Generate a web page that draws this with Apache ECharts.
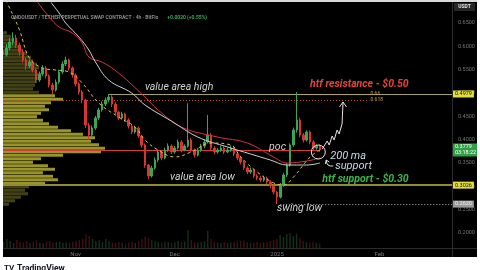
<!DOCTYPE html>
<html><head><meta charset="utf-8">
<script src="https://cdn.jsdelivr.net/npm/echarts@6/dist/echarts.min.js"></script>
<style>html,body{margin:0;padding:0;background:#fff;}#c{width:480px;height:270px;}</style>
</head><body><div id="c"></div>
<script>
// ---- data ----
const startDay = [2024, 9, 10];           // first candle: 10 Oct 2024 (daily candles)
const lastDayOnAxis = 136;                 // axis ends ~23 Feb 2025
const candles = [ // [open, close, low, high]
[0.5900,0.5814,0.5750,0.6000],[0.5814,0.5964,0.5780,0.6050],[0.5964,0.6093,0.5920,0.6180],[0.6093,0.6179,0.6020,0.6300],
[0.6179,0.6029,0.5960,0.6250],[0.6029,0.5879,0.5800,0.6080],[0.5879,0.5707,0.5650,0.5930],[0.5707,0.5579,0.5500,0.5760],
[0.5579,0.5664,0.5530,0.5720],[0.5664,0.5493,0.5440,0.5700],[0.5493,0.5279,0.5220,0.5530],[0.5279,0.5407,0.5240,0.5460],
[0.5407,0.5536,0.5370,0.5600],[0.5536,0.5364,0.5310,0.5580],[0.5364,0.5171,0.5120,0.5400],[0.5171,0.5064,0.4980,0.5220],
[0.5064,0.5236,0.5030,0.5290],[0.5236,0.5450,0.5200,0.5500],[0.5450,0.5622,0.5410,0.5680],[0.5622,0.5707,0.5580,0.5780],
[0.5707,0.5536,0.5480,0.5740],[0.5536,0.5386,0.5330,0.5570],[0.5386,0.5193,0.5140,0.5420],[0.5193,0.5021,0.4970,0.5230],
[0.5021,0.4850,0.4780,0.5060],[0.4850,0.4314,0.4250,0.4880],[0.4314,0.4100,0.4000,0.4360],[0.4100,0.4250,0.4060,0.4300],
[0.4250,0.4464,0.4210,0.4510],[0.4464,0.4636,0.4420,0.4680],[0.4636,0.4764,0.4600,0.4820],[0.4764,0.4850,0.4720,0.4900],
[0.4850,0.4914,0.4800,0.4980],[0.4914,0.4764,0.4700,0.4950],[0.4764,0.4593,0.4540,0.4800],[0.4593,0.4464,0.4420,0.4620],
[0.4464,0.4550,0.4430,0.4600],[0.4550,0.4422,0.4380,0.4580],[0.4422,0.4293,0.4240,0.4460],[0.4293,0.4164,0.4120,0.4330],
[0.4164,0.4250,0.4130,0.4300],[0.4250,0.4079,0.4040,0.4280],[0.4079,0.3886,0.3830,0.4110],[0.3886,0.3457,0.3400,0.3920],
[0.3457,0.3221,0.3160,0.3480],[0.3221,0.3393,0.3190,0.3440],[0.3393,0.3564,0.3360,0.3620],[0.3564,0.3736,0.3520,0.3790],
[0.3736,0.3607,0.3560,0.3780],[0.3607,0.3779,0.3580,0.3830],[0.3779,0.3864,0.3740,0.3920],[0.3864,0.3736,0.3690,0.3900],
[0.3736,0.3821,0.3700,0.3870],[0.3821,0.3950,0.3790,0.4000],[0.3950,0.3779,0.3730,0.3990],[0.3779,0.3864,0.3750,0.3900],
[0.3864,0.3993,0.3830,0.4780],[0.3993,0.3779,0.3740,0.4040],[0.3779,0.3672,0.3620,0.3810],[0.3672,0.3779,0.3640,0.3820],
[0.3779,0.3864,0.3740,0.3910],[0.3864,0.3950,0.3820,0.4000],[0.3950,0.4100,0.3920,0.4530],[0.4100,0.3821,0.3780,0.4140],
[0.3821,0.3736,0.3690,0.3860],[0.3736,0.3779,0.3700,0.3820],[0.3779,0.3821,0.3740,0.3870],[0.3821,0.3736,0.3690,0.3860],
[0.3736,0.3779,0.3710,0.3830],[0.3779,0.3821,0.3740,0.3880],[0.3821,0.3693,0.3650,0.3850],[0.3693,0.3607,0.3560,0.3730],
[0.3607,0.3521,0.3470,0.3650],[0.3521,0.3393,0.3350,0.3560],[0.3393,0.3307,0.3260,0.3430],[0.3307,0.3350,0.3270,0.3400],
[0.3350,0.3221,0.3180,0.3380],[0.3221,0.3179,0.3130,0.3260],[0.3179,0.3136,0.3090,0.3220],[0.3136,0.3179,0.3100,0.3230],
[0.3179,0.3093,0.3050,0.3210],[0.3093,0.3007,0.2960,0.3130],[0.3007,0.2879,0.2830,0.3040],[0.2879,0.2771,0.2620,0.2900],
[0.2771,0.3029,0.2740,0.3070],[0.3029,0.3243,0.2990,0.3290],[0.3243,0.3457,0.3200,0.3500],[0.3457,0.3886,0.3420,0.3920],
[0.3886,0.4207,0.3850,0.4260],[0.4207,0.4422,0.4150,0.5020],[0.4422,0.4100,0.4050,0.4470],[0.4100,0.3993,0.3940,0.4140],
[0.3993,0.4164,0.3960,0.4200],[0.4164,0.3950,0.3900,0.4200],[0.3950,0.3821,0.3770,0.3990],[0.3821,0.3864,0.3780,0.3900],
[0.3864,0.3779,0.3740,0.3900]
];
const volumes = [30,45,35,25,40,30,28,35,25,30, 38,25,22,30,35,28,30,32,25,28, 26,30,35,40,45,70,60,45,35,40,
 30,45,35,28,26,30,25,22,28,30, 25,35,45,55,50,40,35,30,28,32, 30,25,28,35,30,32,90,40,30,28,
 30,35,85,45,30,28,25,30,26,28, 30,32,35,38,30,25,28,30,26,28, 30,35,40,45,65,55,70,75,60,72, 50,35,30,28,30,25,22];
// moving averages: [day index, price]
const redMA = [[8,0.7207],[10,0.6993],[14,0.6629],[17,0.6414],[21,0.6286],[24,0.6072],[26,0.5772],[30,0.5664],[35,0.5429],
 [43,0.4914],[47,0.4636],[54,0.4271],[65,0.4057],[74,0.3929],[82,0.3629],[86,0.3500],[92,0.3543],[96,0.3607]];
const whiteMA = [[12,0.7207],[14,0.6993],[17,0.6714],[19,0.6500],[23,0.6200],[26,0.5922],[28,0.5664],[32,0.5279],[39,0.5000],
 [43,0.4743],[51,0.4400],[59,0.4057],[68,0.3843],[75,0.3693],[81,0.3564],[86,0.3457],[92,0.3457],[96,0.3500]];
const yellowMA = [[0,0.7100],[2,0.6822],[5,0.6350],[8,0.5750],[12,0.5536],[16,0.5493],[20,0.5450],[24,0.5214],[29,0.4786],
 [35,0.4486],[40,0.4271],[43,0.3993],[47,0.3779],[52,0.3629],[57,0.3736],[63,0.3929],[69,0.3886],[72,0.3629],[77,0.3307],
 [82,0.3072],[85,0.3029],[88,0.3200],[93,0.3629],[96,0.3779]];
// volume profile, 70 price rows from top of the chart to bottom
const profile = [0,0,0,0,0,0,0,0,4,8, 10,14,18,20,24,28,30,34,36,34, 38,36,34,32,30,36,52,60,48,42,
 46,38,34,40,46,55,68,80,92,88, 96,102,98,60,38,30,45,52,40,50, 55,42,26,22,25,18,12,6,0,0, 0,0,0,0,0,0,0,0,0,0];
const levels = {vah:0.4979, fib66:0.4979, fib618:0.4850, poc:0.3768, val:0.3026, swingLow:0.2620, last:0.3779};
const priceTickStep = 0.05;
const monthNames = ['Jan','Feb','Mar','Apr','May','Jun','Jul','Aug','Sep','Oct','Nov','Dec'];
const titleText = 'ONDOUSDT / TETHER PERPETUAL SWAP CONTRACT · 4h · BitFlo';
const changeText = '+0.0020 (+0.55%)';
const countdownText = '03:18:22';
const notes = [
 {text:'value area high', d:43.0, v:0.5129, kind:'w'},
 {text:'poc', d:80.6, v:0.3832, kind:'w'},
 {text:'value area low', d:50.6, v:0.3200, kind:'w'},
 {text:'swing low', d:83.0, v:0.2536, kind:'w'},
 {text:'htf resistance - $0.50', d:93.0, v:0.5182, kind:'r'},
 {text:'200 ma', d:99.1, v:0.3650, kind:'b'},
 {text:'support', d:100.6, v:0.3436, kind:'b'},
 {text:'htf support - $0.30', d:96.7, v:0.3157, kind:'g'}
];
const zigzag = [[96.7,0.3800],[98.2,0.3971],[98.8,0.3886],[99.7,0.4079],[100.3,0.3993],[101.2,0.4207],[101.8,0.4122],[102.7,0.4336],[103.0,0.4807]];
const circleAt = [95.5, 0.3736];

// ---- chart ----
const DAY = 86400000;
const t0 = Date.UTC(startDay[0], startDay[1], startDay[2]);
const t = d => t0 + d * DAY;
const yMin = 0.1679, yMax = 0.6929;
const FONT = 'Roboto, "DejaVu Sans", sans-serif';
const UP = '#3aa655', DOWN = '#d8362f';

const binH = (yMax - yMin) / profile.length;
const profileData = profile.map((v, i) => {
  const p = yMax - (i + 0.5) * binH;
  const inVA = p <= levels.vah && p >= levels.val;
  return {value: v, itemStyle: {color: inVA ? 'rgba(196,190,52,0.78)' : 'rgba(120,118,40,0.55)'}};
});

function seg(d0, d1, v, lineStyle, label) {
  return [{coord: [t(d0), v], lineStyle: lineStyle, label: label || {show: false}}, {coord: [t(d1), v]}];
}
function boxLabel(txt, bg, fg) {
  return {show: true, position: 'end', distance: 1, formatter: txt, color: fg, backgroundColor: bg,
    fontSize: 5.5, fontFamily: FONT, padding: [1, 2, 0, 2], lineHeight: 6};
}
function fibLabel(txt) {
  return {show: true, position: 'end', distance: 1, formatter: txt, color: '#c8a040', fontSize: 5, fontFamily: FONT};
}
const noteColor = {w: '#d2d2d2', r: '#e5443a', g: '#3cb446', b: '#c4dbe4'};
const noteWeight = {w: 'normal', r: 'bold', g: 'bold', b: 'normal'};
const noteSize = {w: 10.5, r: 10.5, g: 10.5, b: 11};

const chart = echarts.init(document.getElementById('c'), null, {renderer: 'canvas'});
const option = {
  animation: false, useUTC: true, backgroundColor: '#000',
  textStyle: {fontFamily: FONT},
  title: {text: '{a|' + titleText + '}  {b|' + changeText + '}', left: 6, top: 4,
    textStyle: {rich: {a: {fontSize: 5, color: '#8a8a8a', fontFamily: FONT}, b: {fontSize: 5, color: '#3aa655', fontFamily: FONT}}}},
  grid: [
    {left: 3, right: 28, top: 3, height: 245},
    {left: 3, right: 28, top: 3, height: 245},
    {left: 3, right: 28, top: 228, height: 20}
  ],
  xAxis: [
    {type: 'time', gridIndex: 0, min: t(0), max: t(lastDayOnAxis), minInterval: 30 * DAY, maxInterval: 31 * DAY,
      splitLine: {show: false}, axisLine: {show: false}, axisTick: {show: false},
      axisLabel: {color: '#7c7c7c', fontSize: 6, margin: 3, showMinLabel: false, showMaxLabel: false, hideOverlap: false,
        formatter: val => { const dt = new Date(val); return dt.getUTCMonth() === 0 ? String(dt.getUTCFullYear()) : monthNames[dt.getUTCMonth()]; }}},
    {type: 'value', gridIndex: 1, min: 0, max: 449, show: false},
    {type: 'time', gridIndex: 2, min: t(0), max: t(lastDayOnAxis), show: false}
  ],
  yAxis: [
    {type: 'value', gridIndex: 0, position: 'right', min: yMin, max: yMax, splitNumber: 10,
      splitLine: {show: false}, axisLine: {show: false}, axisTick: {show: false},
      axisLabel: {color: '#767676', fontSize: 5.5, margin: 6, showMinLabel: false, showMaxLabel: false,
        formatter: v => (Math.abs(v / priceTickStep - Math.round(v / priceTickStep)) < 1e-6 ? v.toFixed(4) : '')}},
    {type: 'category', gridIndex: 1, inverse: true, data: profile.map((v, i) => 'r' + i), show: false},
    {type: 'value', gridIndex: 2, min: 0, max: 100, show: false}
  ],
  series: [
    {type: 'bar', name: 'profile', xAxisIndex: 1, yAxisIndex: 1, z: 1, barCategoryGap: '12%', data: profileData, silent: true},
    {type: 'bar', name: 'volume', xAxisIndex: 2, yAxisIndex: 2, z: 1, barWidth: 1.4, silent: true,
      data: volumes.map((v, i) => ({value: [t(i), v], itemStyle: {color: candles[i][1] >= candles[i][0] ? 'rgba(58,166,85,0.3)' : 'rgba(216,54,47,0.3)'}}))},
    {type: 'candlestick', name: 'price', xAxisIndex: 0, yAxisIndex: 0, z: 3, barWidth: 2,
      data: candles.map((c, i) => [t(i), c[0], c[1], c[2], c[3]]),
      itemStyle: {color: UP, color0: DOWN, borderColor: UP, borderColor0: DOWN, borderWidth: 1},
      markLine: {symbol: 'none', silent: true, animation: false, z: 2,
        data: [
          seg(32, lastDayOnAxis, levels.vah, {color: '#a4a25e', width: 1, type: 'solid'}, boxLabel(levels.vah.toFixed(4), '#e2df3c', '#111')),
          seg(87, 111, levels.fib66, {color: '#d0b040', width: 1, type: [1, 2]}, fibLabel('0.66')),
          seg(0, 111, levels.fib618, {color: '#c0522e', width: 1, type: [1, 2]}, fibLabel('0.618')),
          seg(0, 96, levels.poc, {color: '#d63a3a', width: 1, type: 'solid'}),
          seg(0, lastDayOnAxis, levels.val, {color: '#8e8c2e', width: 2, type: 'solid'}, boxLabel(levels.val.toFixed(4), '#e2df3c', '#111')),
          seg(84, lastDayOnAxis, levels.swingLow, {color: '#b0b0b0', width: 1, type: [1, 2]}, boxLabel(levels.swingLow.toFixed(4), '#9a9a9a', '#f0f0f0')),
          seg(96, lastDayOnAxis, levels.last, {color: 'rgba(0,0,0,0)', width: 1}, boxLabel(levels.last.toFixed(4) + '\n' + countdownText, '#2ea043', '#ffffff'))
        ]},
      markPoint: {silent: true, animation: false, symbol: 'circle', symbolSize: 0,
        data: notes.map(n => ({coord: [t(n.d), n.v], symbolSize: 0,
          label: {show: true, position: 'right', distance: 0, formatter: n.text, color: noteColor[n.kind],
            fontSize: noteSize[n.kind], fontStyle: 'italic', fontWeight: noteWeight[n.kind], fontFamily: FONT}}))}
    },
    {type: 'line', name: 'ma red', xAxisIndex: 0, yAxisIndex: 0, z: 4, smooth: 0.4, symbol: 'none', silent: true,
      data: redMA.map(p => [t(p[0]), p[1]]), lineStyle: {color: '#d8323c', width: 1}},
    {type: 'line', name: 'ma white', xAxisIndex: 0, yAxisIndex: 0, z: 4, smooth: 0.4, symbol: 'none', silent: true,
      data: whiteMA.map(p => [t(p[0]), p[1]]), lineStyle: {color: '#cfcfcf', width: 1}},
    {type: 'line', name: 'ma dashed', xAxisIndex: 0, yAxisIndex: 0, z: 4, smooth: 0.4, symbol: 'none', silent: true,
      data: yellowMA.map(p => [t(p[0]), p[1]]), lineStyle: {color: '#d9c44a', width: 1, type: [3, 3]}}
  ]
};
chart.setOption(option);

const px = (d, v) => chart.convertToPixel({xAxisIndex: 0, yAxisIndex: 0}, [t(d), v]);
const zz = zigzag.map(p => px(p[0], p[1]));
const tip = zz[zz.length - 1];
const C = px(circleAt[0], circleAt[1]);
chart.setOption({graphic: [
  {type: 'polyline', z: 50, shape: {points: zz}, style: {stroke: '#ecdde6', lineWidth: 1, fill: null}},
  {type: 'polyline', z: 50, shape: {points: [[tip[0] - 3.5, tip[1] + 5], tip, [tip[0] + 3.5, tip[1] + 5]]}, style: {stroke: '#ecdde6', lineWidth: 1, fill: null}},
  {type: 'circle', z: 50, shape: {cx: C[0], cy: C[1], r: 7}, style: {stroke: '#e6e6e6', lineWidth: 1, fill: null}},
  {type: 'bezierCurve', z: 50, shape: {x1: C[0] + 15, y1: C[1] + 14, cpx1: C[0] + 8, cpy1: C[1] + 15, x2: C[0] + 8, y2: C[1] + 8}, style: {stroke: '#d8e4ea', lineWidth: 1, fill: null}},
  {type: 'polyline', z: 50, shape: {points: [[C[0] + 7, C[1] + 12], [C[0] + 8, C[1] + 8], [C[0] + 11, C[1] + 10]]}, style: {stroke: '#d8e4ea', lineWidth: 1, fill: null}},
  // pane separators
  {type: 'line', z: 60, shape: {x1: 452.5, y1: 2, x2: 452.5, y2: 257}, style: {stroke: '#2c2c2c', lineWidth: 1}},
  {type: 'line', z: 60, shape: {x1: 3, y1: 248.5, x2: 477, y2: 248.5}, style: {stroke: '#2c2c2c', lineWidth: 1}},
  {type: 'rect', z: 60, shape: {x: 454, y: 3, width: 21, height: 8}, style: {fill: '#262626'}},
  {type: 'text', z: 61, style: {text: 'USDT', x: 464.5, y: 7, align: 'center', verticalAlign: 'middle', fill: '#e0e0e0', fontSize: 5, fontFamily: FONT, fontWeight: 'bold'}},
  // white frame
  {type: 'rect', z: 90, shape: {x: 0, y: 0, width: 480, height: 2}, style: {fill: '#d8d8d8'}},
  {type: 'rect', z: 90, shape: {x: 0, y: 0, width: 3, height: 270}, style: {fill: '#ffffff'}},
  {type: 'rect', z: 90, shape: {x: 477, y: 0, width: 3, height: 270}, style: {fill: '#ffffff'}},
  {type: 'rect', z: 90, shape: {x: 0, y: 257, width: 480, height: 13}, style: {fill: '#ffffff'}},
  {type: 'text', z: 91, style: {text: 'TV', x: 4, y: 264, fill: '#131722', fontSize: 8, fontWeight: 'bold', fontFamily: FONT}},
  {type: 'text', z: 91, style: {text: 'TradingView', x: 17, y: 264, fill: '#131722', fontSize: 8.5, fontWeight: 'bold', fontFamily: FONT}}
]});
</script>
</body></html>
